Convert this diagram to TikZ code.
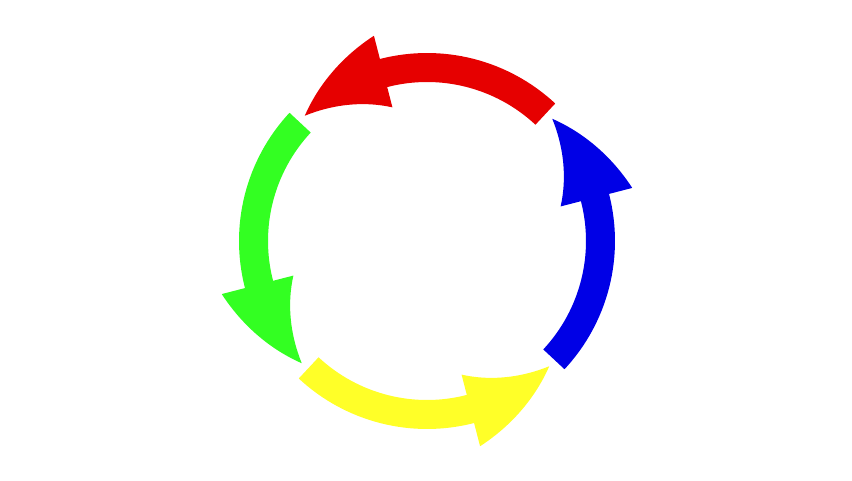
\documentclass[tikz,border=0pt]{standalone}

\definecolor{cyclered}{RGB}{230,0,0}
\definecolor{cyclegreen}{RGB}{51,255,34}
\definecolor{cycleyellow}{RGB}{255,255,40}
\definecolor{cycleblue}{RGB}{0,0,230}

% one curved arrow of the cycle, #1 colour, #2 angle of its tail
\newcommand{\cyclearrow}[2]{%
\fill[#1] (#2:159) -- (#2:188)
  arc[start angle=#2, end angle={#2+57.5}, radius=188]
  -- ({#2+57.5}:212)
  -- plot[domain=0:1, variable=\s, samples=25] ({#2+57.5+29.8*\s}:{212-37*\s})
  -- plot[domain=1:0, variable=\s, samples=25] ({#2+57.5+29.8*\s}:{138+37*\s})
  -- ({#2+57.5}:159)
  arc[start angle={#2+57.5}, end angle=#2, radius=159]
  -- cycle;}

\begin{document}
\begin{tikzpicture}[x=1pt,y=1pt]

\useasboundingbox (0,0) rectangle (852,480);

\begin{scope}[shift={(427,239)}]

% Draw the arrows
\cyclearrow{cyclered}{47}
\cyclearrow{cyclegreen}{137}
\cyclearrow{cycleyellow}{227}
\cyclearrow{cycleblue}{317}

\end{scope}

\end{tikzpicture}
\end{document}
